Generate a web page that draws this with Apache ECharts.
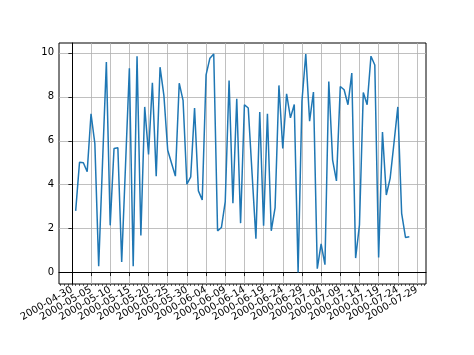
<!DOCTYPE html>
<html>
<head>
<meta charset="utf-8">
<script src="https://cdn.jsdelivr.net/npm/echarts@6/dist/echarts.min.js"></script>
<style>
  html, body { margin: 0; padding: 0; background: #fff; }
  #chart { width: 474px; height: 355px; }
</style>
</head>
<body>
<div id="chart"></div>
<script>
// daily series starting 2000-05-01 (x = days since 2000-04-30)
const startDay = 1;
const values = [
  2.81, 5.02, 5.00, 4.59, 7.23, 5.87, 0.29, 5.00, 9.58, 2.15,
  5.65, 5.68, 0.48, 4.90, 9.30, 0.29, 9.85, 1.69, 7.54, 5.38,
  8.64, 4.39, 9.35, 8.07, 5.57, 4.98, 4.39, 8.62, 7.84, 4.02,
  4.36, 7.49, 3.72, 3.31, 9.00, 9.76, 9.95, 1.90, 2.05, 3.23,
  8.74, 3.16, 7.91, 2.25, 7.64, 7.49, 4.50, 1.54, 7.31, 2.13,
  7.23, 1.90, 2.96, 8.52, 5.65, 8.14, 7.04, 7.65, 0.00, 7.80,
  9.95, 6.89, 8.22, 0.18, 1.31, 0.36, 8.70, 5.12, 4.17, 8.47,
  8.32, 7.64, 9.08, 0.66, 2.17, 8.20, 7.64, 9.85, 9.45, 0.69,
  6.40, 3.53, 4.29, 5.90, 7.54, 2.70, 1.60, 1.63
];

// major ticks every 5 days from 2000-04-30
const xTickDays = [0, 5, 10, 15, 20, 25, 30, 35, 40, 45, 50, 55, 60, 65, 70, 75, 80, 85, 90];
const xTickLabels = [
  '2000-04-30', '2000-05-05', '2000-05-10', '2000-05-15', '2000-05-20',
  '2000-05-25', '2000-05-30', '2000-06-04', '2000-06-09', '2000-06-14',
  '2000-06-19', '2000-06-24', '2000-06-29', '2000-07-04', '2000-07-09',
  '2000-07-14', '2000-07-19', '2000-07-24', '2000-07-29'
];
const yTicks = [0, 2, 4, 6, 8, 10];

const xMin = -3.35, xMax = 92.35;
const yMin = -0.52, yMax = 10.45;

const minorDays = [];
for (let d = -3; d <= 92; d++) minorDays.push(d);

// first and last labels go on their own axis so the overlap check keeps them
const edgeDays = [xTickDays[0], xTickDays[xTickDays.length - 1]];

const chart = echarts.init(document.getElementById('chart'), null, { renderer: 'canvas' });

const font = 'DejaVu Sans';
const gridLine = { show: true, lineStyle: { color: '#b0b0b0', width: 0.8 } };
const dateLabel = v => xTickLabels[xTickDays.indexOf(Math.round(v))] || '';

const option = {
  animation: false,
  backgroundColor: '#fff',
  grid: {
    left: 59, top: 43, width: 367, height: 241,
    show: true, borderColor: '#000', borderWidth: 1, backgroundColor: 'transparent'
  },
  xAxis: [
    {
      type: 'value', min: xMin, max: xMax, position: 'bottom',
      axisLine: { show: true, lineStyle: { color: '#000', width: 1 } },
      axisTick: { show: true, length: 3.5, customValues: xTickDays, lineStyle: { color: '#000', width: 0.8 } },
      axisLabel: {
        show: true, customValues: xTickDays, rotate: 30, margin: 5,
        color: '#000', fontSize: 10, fontFamily: font,
        formatter: dateLabel
      },
      splitLine: gridLine
    },
    {
      type: 'value', min: xMin, max: xMax, position: 'bottom',
      axisLine: { show: false },
      axisTick: { show: true, length: 2, customValues: minorDays, lineStyle: { color: '#000', width: 0.6 } },
      axisLabel: { show: false },
      splitLine: { show: false }
    },
    {
      type: 'value', min: xMin, max: xMax, position: 'bottom',
      axisLine: { show: false },
      axisTick: { show: false, customValues: edgeDays },
      axisLabel: {
        show: true, customValues: edgeDays, rotate: 30, margin: 5,
        color: '#000', fontSize: 10, fontFamily: font,
        formatter: dateLabel
      },
      splitLine: { show: false }
    }
  ],
  yAxis: {
    type: 'value', min: yMin, max: yMax,
    axisLine: { show: true, lineStyle: { color: '#000', width: 1 } },
    axisTick: { show: true, length: 3.5, customValues: yTicks, lineStyle: { color: '#000', width: 0.8 } },
    axisLabel: {
      show: true, customValues: yTicks, margin: 5,
      color: '#000', fontSize: 10, fontFamily: font
    },
    splitLine: gridLine
  },
  series: [{
    type: 'line',
    xAxisIndex: 0,
    data: values.map((v, i) => [startDay + i, v]),
    showSymbol: false,
    symbol: 'none',
    lineStyle: { color: '#1f77b4', width: 1.5 },
    itemStyle: { color: '#1f77b4' }
  }]
};

chart.setOption(option);
</script>
</body>
</html>
